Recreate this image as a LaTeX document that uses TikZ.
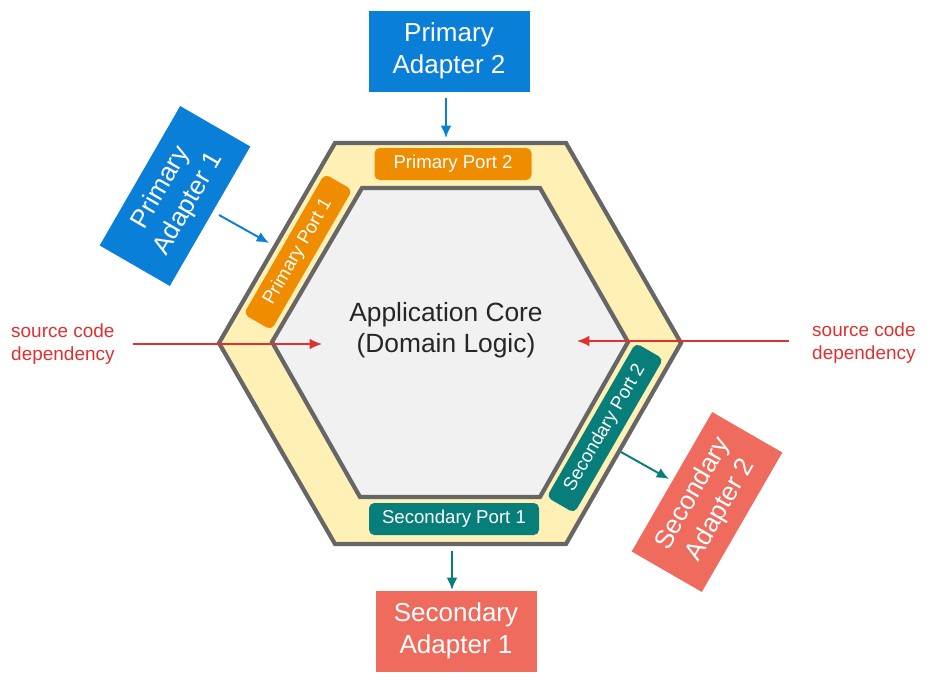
\documentclass[tikz,border=0pt]{standalone}
\usepackage{fontspec}
\setmainfont{Liberation Sans}
\usetikzlibrary{arrows.meta}
\definecolor{pblue}{HTML}{0A7FD8}
\definecolor{sred}{HTML}{EE6B5D}
\definecolor{porange}{HTML}{F08C00}
\definecolor{steal}{HTML}{087E7B}
\definecolor{hexfill}{HTML}{FFF1B5}
\definecolor{corefill}{HTML}{F1F1F1}
\definecolor{hexline}{HTML}{666666}
\definecolor{depred}{HTML}{E03030}
\begin{document}
\begin{tikzpicture}[x=0.02cm,y=-0.02cm]
\tikzset{
  adapter/.style={minimum width=161*0.02cm,minimum height=81*0.02cm,inner sep=0pt,
    align=center,text=white,font=\fontsize{14.8}{18}\selectfont},
  port/.style={rounded corners=3pt,minimum height=32*0.02cm,inner sep=0pt,
    text=white,font=\fontsize{10.6}{12}\selectfont},
  arr/.style={-{Latex[length=7pt,width=6pt]},line width=1.1pt},
  dep/.style={text=depred,align=left,font=\fontsize{10.8}{13}\selectfont}
}
\useasboundingbox (0,0) rectangle (930,683);
% hexagons
\draw[hexline,line width=2.4pt,fill=hexfill]
  (335,143) -- (566,143) -- (681,343) -- (566,544) -- (335,544) -- (219,343) -- cycle;
\draw[hexline,line width=2.4pt,fill=corefill]
  (362,188) -- (540,188) -- (628,342) -- (540,497) -- (360,497) -- (272,342) -- cycle;
\node[align=center,text=black!85,font=\fontsize{15}{18}\selectfont] (core) at (446,330)
  {Application Core\\(Domain Logic)};
% ports
\node[port,fill=porange,minimum width=157*0.02cm] (pp2) at (453,164) {Primary Port 2};
\node[port,fill=porange,minimum width=162*0.02cm,rotate=60] (pp1) at (298,252) {Primary Port 1};
\node[port,fill=steal,minimum width=170*0.02cm] (sp1) at (454,519) {Secondary Port 1};
\node[port,fill=steal,minimum width=178*0.02cm,rotate=60] (sp2) at (605,428) {Secondary Port 2};
% adapters
\node[adapter,fill=pblue] (pa2) at (449,51) {Primary\\Adapter 2};
\node[adapter,fill=pblue,rotate=60] (pa1) at (175,196) {Primary\\Adapter 1};
\node[adapter,fill=sred] (sa1) at (456,631) {Secondary\\Adapter 1};
\node[adapter,fill=sred,rotate=60] (sa2) at (707,502) {Secondary\\Adapter 2};
% connectors
\coordinate (pa2s) at (446,98);
\coordinate (pa2e) at (446,138);
\coordinate (pa1s) at (219,215);
\coordinate (pa1e) at (269,243);
\coordinate (sa1s) at (452,551);
\coordinate (sa1e) at (452,590);
\coordinate (sa2s) at (621,452);
\coordinate (sa2e) at (669,479);
\draw[arr,pblue] (pa2s) -- (pa2e);
\draw[arr,pblue] (pa1s) -- (pa1e);
\draw[arr,steal] (sa1s) -- (sa1e);
\draw[arr,steal] (sa2s) -- (sa2e);
% dependency arrows
\node[dep,anchor=west] (dl) at (5,344) {source code\\dependency};
\node[dep,anchor=west] (dr) at (806,343) {source code\\dependency};
\coordinate (dls) at (133,344);
\coordinate (dle) at (322,344);
\coordinate (drs) at (789,341);
\coordinate (dre) at (577,341);
\draw[arr,depred,line width=0.9pt] (dls) -- (dle);
\draw[arr,depred,line width=0.9pt] (drs) -- (dre);
\end{tikzpicture}
\end{document}
